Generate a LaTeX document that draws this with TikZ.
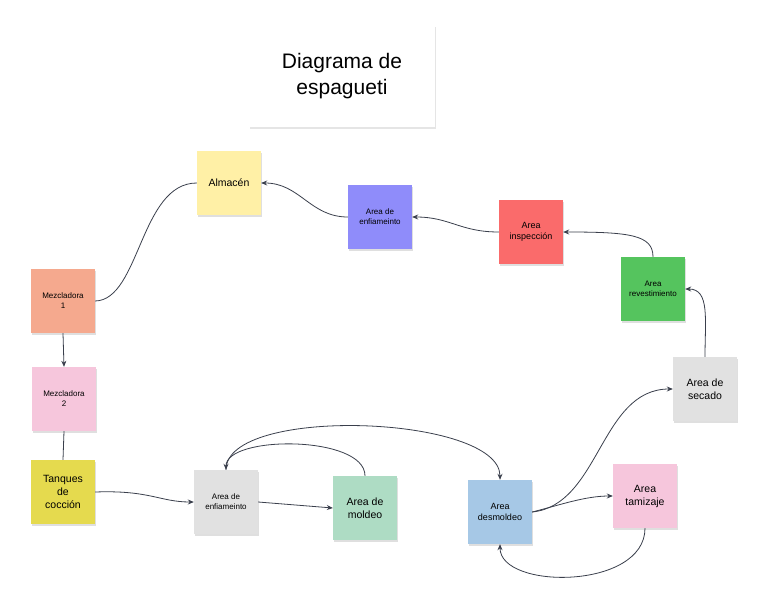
\documentclass[tikz,border=0pt]{standalone}
\usepackage{fontspec}
\setmainfont{Liberation Sans}
\usetikzlibrary{arrows.meta,shadows}
\definecolor{cyel}{HTML}{FFF0A6}
\definecolor{cpur}{HTML}{8F8CFA}
\definecolor{cred}{HTML}{FA6B6B}
\definecolor{cgrn}{HTML}{55C45E}
\definecolor{cgry}{HTML}{E1E1E1}
\definecolor{csal}{HTML}{F5A98E}
\definecolor{cpnk}{HTML}{F6C6DC}
\definecolor{cmus}{HTML}{E5DA4E}
\definecolor{cmnt}{HTML}{AEDCC4}
\definecolor{cblu}{HTML}{A6C8E6}
\definecolor{cln}{HTML}{3A3F4C}
\tikzset{
  note/.style={minimum width=64pt,minimum height=64pt,inner sep=1pt,align=center,
    font=\fontsize{8}{10}\selectfont,drop shadow={shadow xshift=1pt,shadow yshift=-1.5pt,opacity=0.25}},
  bignote/.style={note,font=\fontsize{10.5}{13}\selectfont},
  conn/.style={draw=cln,line width=0.8pt},
  arr/.style={conn,-{Stealth[length=6pt,width=5pt]}}
}
\begin{document}
\begin{tikzpicture}[x=1pt,y=-1pt]
\useasboundingbox (0,0) rectangle (768,599);
\fill[white] (0,0) rectangle (768,599);
\node[fill=white,minimum width=186pt,minimum height=102pt,align=center,font=\fontsize{21}{26}\selectfont,
  drop shadow={shadow xshift=1pt,shadow yshift=-2pt,opacity=0.2}] (title) at (342,76) {Diagrama de\\espagueti};
\node[bignote,fill=cyel] (alm) at (229,183) {Almacén};
\node[note,fill=cpur] (enf1) at (380,217) {Area de\\enfiameinto};
\node[note,fill=cred,font=\fontsize{9}{11}\selectfont] (insp) at (531,232) {Area\\inspección};
\node[note,fill=cgrn] (rev) at (653,289) {Area\\revestimiento};
\node[bignote,fill=cgry] (sec) at (705,389) {Area de\\secado};
\node[note,fill=csal] (m1) at (63,301) {Mezcladora\\1};
\node[note,fill=cpnk] (m2) at (64,399) {Mezcladora\\2};
\node[bignote,fill=cmus] (tq) at (63,492) {Tanques\\de\\cocción};
\node[note,fill=cgry] (enf2) at (226,502) {Area de\\enfiameinto};
\node[bignote,fill=cmnt] (mol) at (365,508) {Area de\\moldeo};
\node[note,fill=cblu,font=\fontsize{9}{11}\selectfont] (des) at (500,512) {Area\\desmoldeo};
\node[bignote,fill=cpnk] (tam) at (645,496) {Area\\tamizaje};

\draw[conn] (m1.east) .. controls (140,300) and (140,183) .. (alm.west);
\draw[arr] (enf1.west) .. controls (310,217) and (300,183) .. (alm.east);
\draw[arr] (insp.west) .. controls (460,232) and (450,217) .. (enf1.east);
\draw[arr] (rev.north) .. controls (653,235) and (630,232) .. (insp.east);
\draw[arr] (sec.north) .. controls (705,320) and (710,289) .. (rev.east);
\draw[arr] (des.east) .. controls (600,505) and (600,389) .. (sec.west);
\draw[arr] (des.east) .. controls (560,505) and (585,496) .. (tam.west);
\draw[arr] (tam.south) .. controls (645,590) and (500,590) .. (des.south);
\draw[arr] (m1.south) -- (m2.north);
\draw[conn] (m2.south) -- (tq.north);
\draw[arr] (tq.east) .. controls (150,490) and (160,502) .. (enf2.west);
\draw[arr] (enf2.east) -- (mol.west);
\draw[arr] (mol.north) .. controls (365,435) and (226,435) .. (enf2.north);
\draw[arr] (enf2.north) .. controls (226,405) and (500,415) .. (des.north);
\end{tikzpicture}
\end{document}
